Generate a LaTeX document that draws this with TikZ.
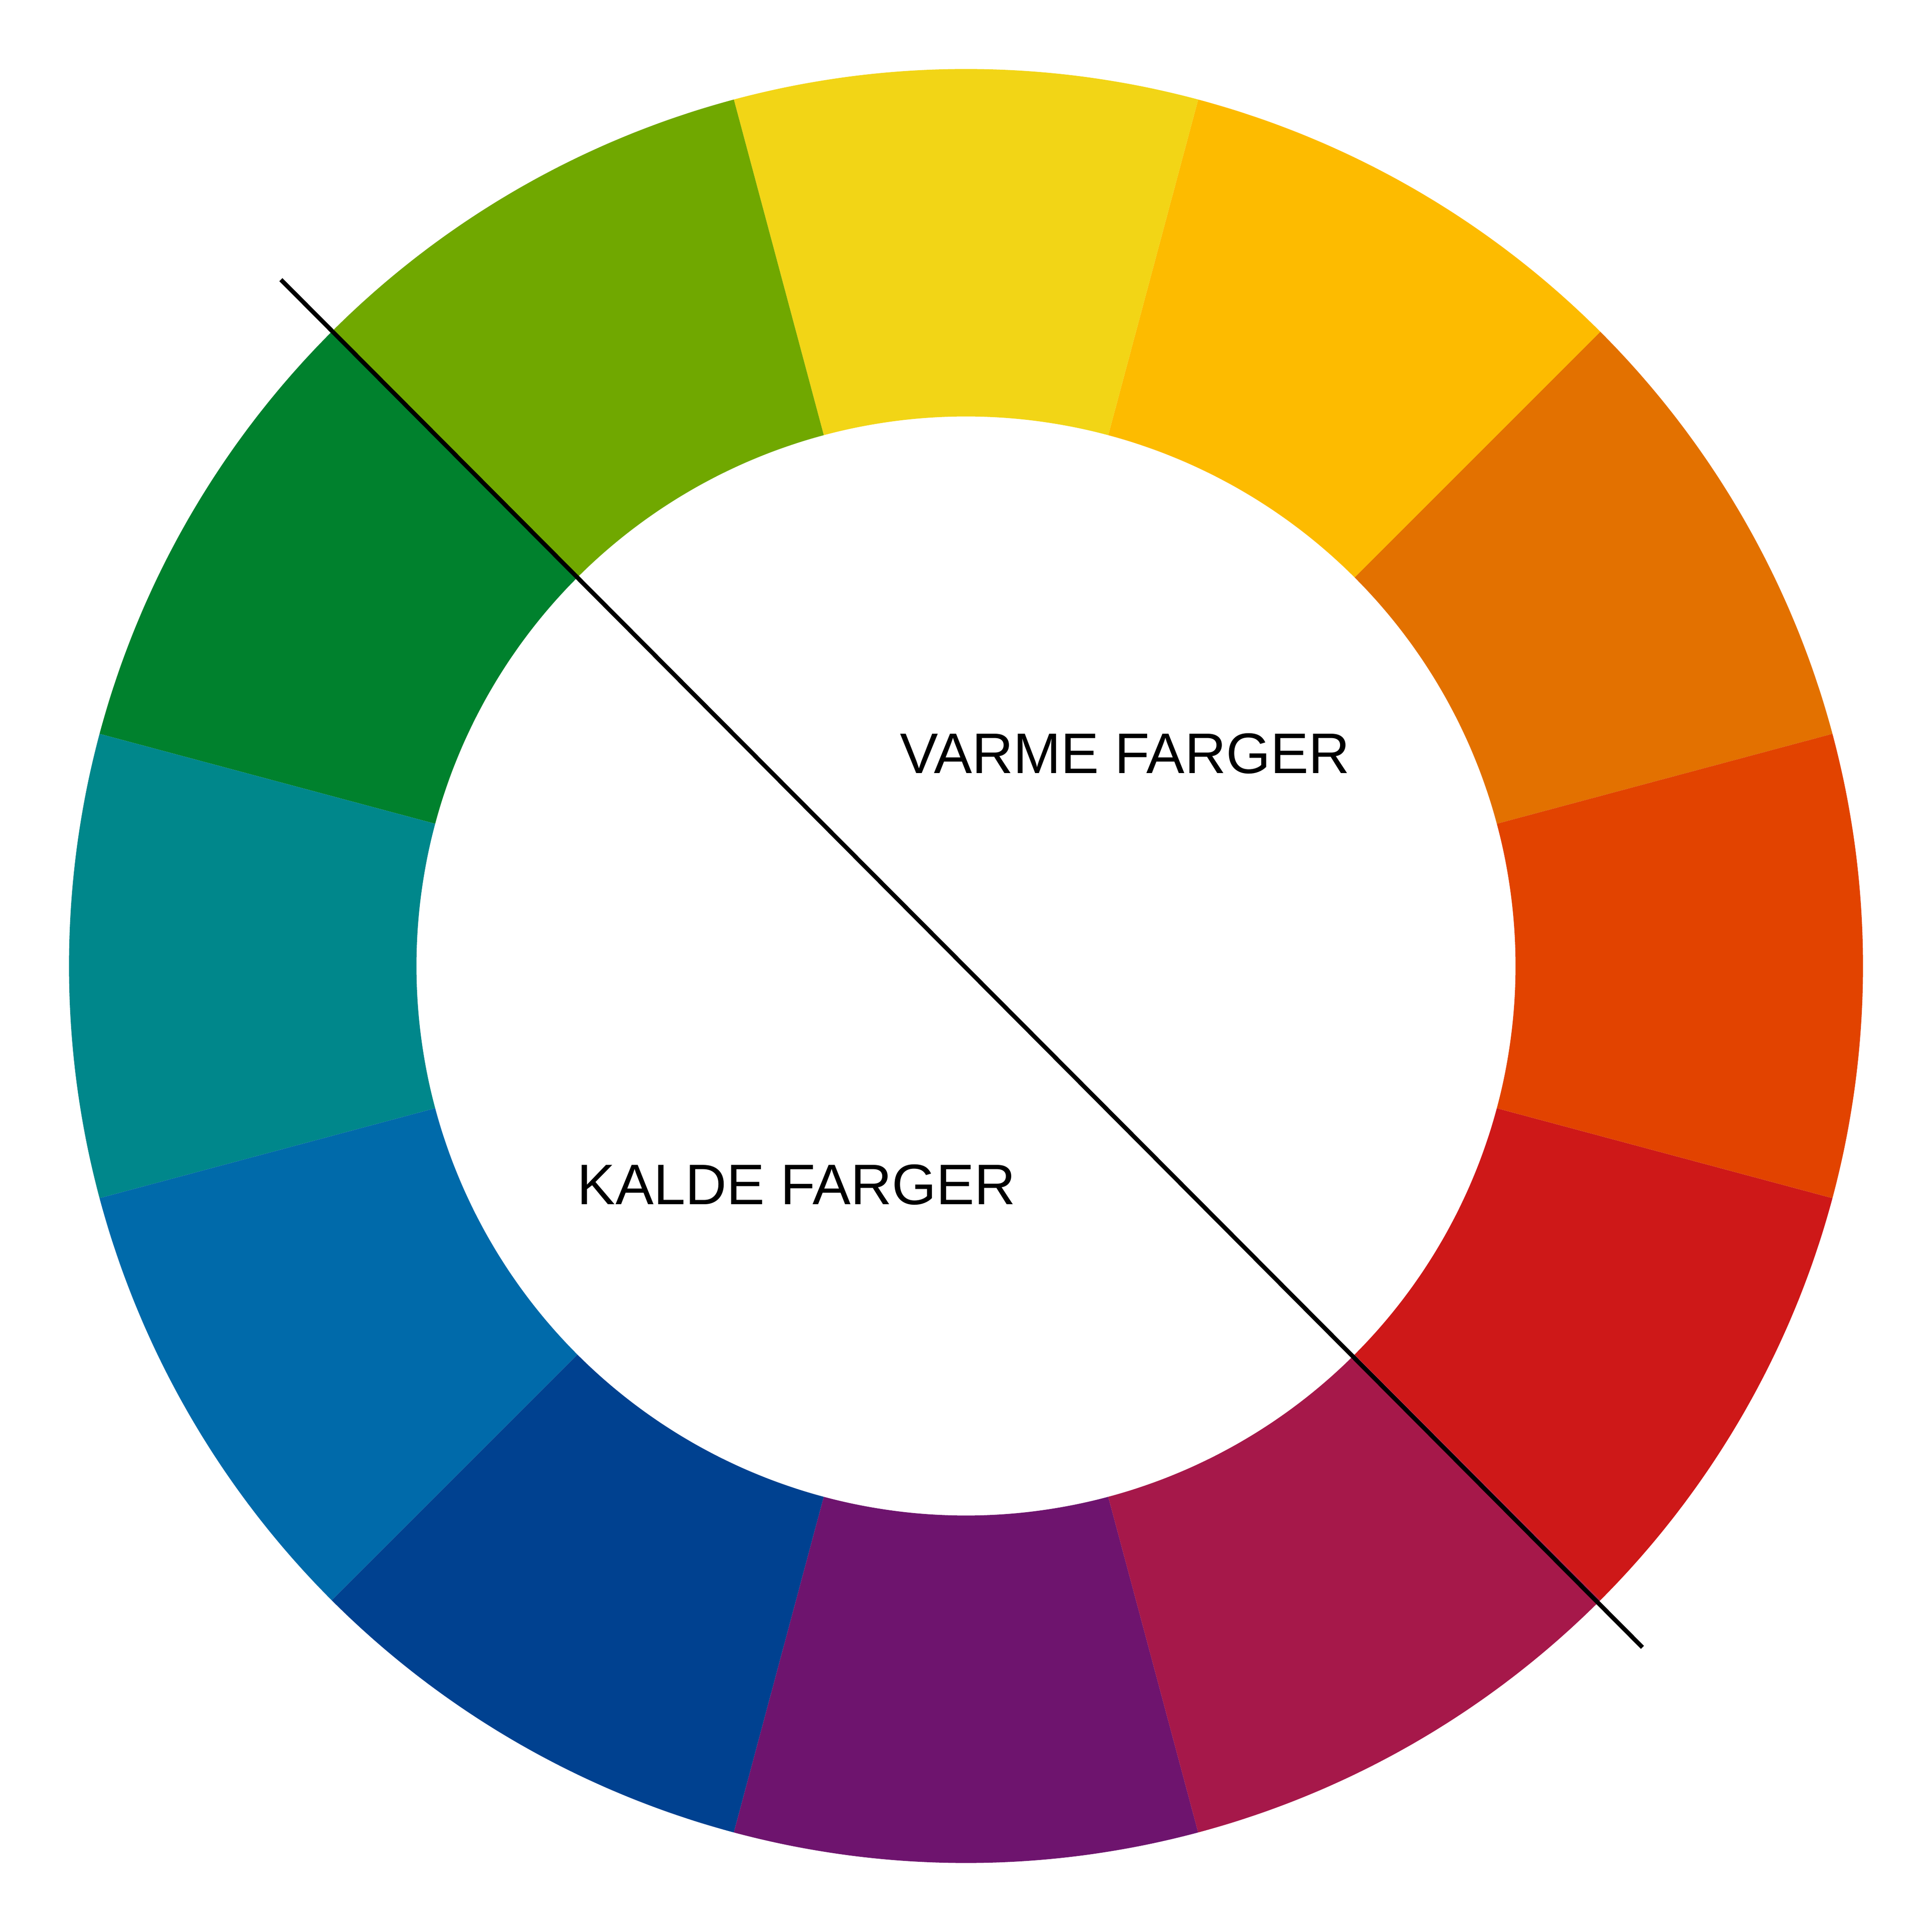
\documentclass[tikz,border=0pt]{standalone}
\usepackage{fontspec}
\setmainfont{Liberation Sans}
\usepackage{tikz}
\usetikzlibrary{calc,positioning}
\usepackage{xcolor}

\definecolor{wOrange}{HTML}{E37100}
\definecolor{wAmber}{HTML}{FDBB00}
\definecolor{wYellow}{HTML}{F2D516}
\definecolor{wLime}{HTML}{70A800}
\definecolor{wGreen}{HTML}{00812D}
\definecolor{wTeal}{HTML}{00878B}
\definecolor{wBlue}{HTML}{006AAA}
\definecolor{wNavy}{HTML}{004190}
\definecolor{wPurple}{HTML}{6E146E}
\definecolor{wCrimson}{HTML}{A6184A}
\definecolor{wRed}{HTML}{CE1818}
\definecolor{wVermilion}{HTML}{E24300}

\begin{document}
\begin{tikzpicture}[label/.style={font=\fontsize{13.2}{16}\selectfont, anchor=base}]

\useasboundingbox (-7.84,-7.84) rectangle (7.84,7.84);

% colour wheel
\foreach \a/\c in {15/wOrange,45/wAmber,75/wYellow,105/wLime,135/wGreen,165/wTeal,195/wBlue,225/wNavy,255/wPurple,285/wCrimson,315/wRed,345/wVermilion}
  \fill[\c] (\a:4.46) -- (\a:7.28) arc (\a:\a+30:7.28) -- (\a+30:4.46) arc (\a+30:\a:4.46) -- cycle;

% divider
\coordinate (top) at (-5.56,5.57);
\coordinate (bottom) at (5.49,-5.53);
\draw[line width=1pt] (top) -- (bottom);

% texte
\node[label] (warm) at (1.29,1.565) {VARME FARGER};
\node[label] (cold) at (-1.375,-1.935) {KALDE FARGER};

\end{tikzpicture}
\end{document}
